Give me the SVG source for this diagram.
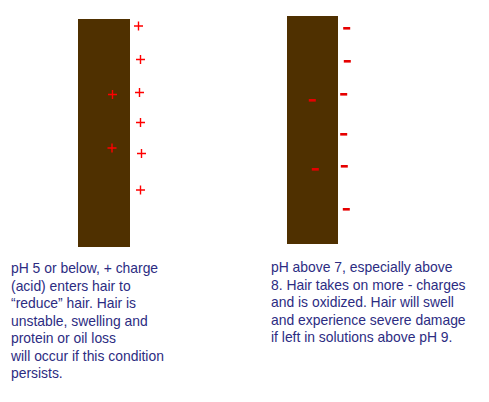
<svg xmlns="http://www.w3.org/2000/svg" width="489" height="402" viewBox="0 0 489 402">
<style>
.bar{fill:#4f3000}
.plus{stroke:#ff0000;stroke-width:1.4;fill:none}
.minus{fill:#e60000}
.txt{font-family:"Liberation Sans",Arial,sans-serif;font-size:13.9px;fill:#2c2c82}
</style>
<defs>
<path id="p" class="plus" d="M-4.5,0H4.5M0,-4.5V4.5"/>
<rect id="m" class="minus" x="-3.5" y="-1.3" width="7" height="2.6"/>
</defs>
<rect width="489" height="402" fill="#ffffff"/>
<g id="hair-acid">
<rect class="bar" x="78" y="19" width="52" height="228"/>
<use href="#p" x="138.5" y="26"/>
<use href="#p" x="140.5" y="59.5"/>
<use href="#p" x="139.5" y="92.5"/>
<use href="#p" x="140.5" y="122.5"/>
<use href="#p" x="141.5" y="153.5"/>
<use href="#p" x="140.5" y="190"/>
<use href="#p" x="112.5" y="94.5"/>
<use href="#p" x="112" y="148"/>
</g>
<g id="hair-alkaline">
<rect class="bar" x="287" y="16" width="51" height="228"/>
<use href="#m" x="346.7" y="28.3"/>
<use href="#m" x="347.3" y="61.3"/>
<use href="#m" x="343.7" y="94.3"/>
<use href="#m" x="343.7" y="134.3"/>
<use href="#m" x="344.3" y="166.3"/>
<use href="#m" x="346.3" y="209.3"/>
<use href="#m" x="312.3" y="100.3"/>
<use href="#m" x="315.3" y="169.3"/>
</g>
<g id="text-acid" class="txt">
<text x="11" y="273">pH 5 or below, + charge</text>
<text x="11" y="290.5">(acid) enters hair to</text>
<text x="11" y="308">“reduce” hair. Hair is</text>
<text x="11" y="325.5">unstable, swelling and</text>
<text x="11" y="343">protein or oil loss</text>
<text x="11" y="360.5">will occur if this condition</text>
<text x="11" y="378">persists.</text>
</g>
<g id="text-alkaline" class="txt">
<text x="271" y="272">pH above 7, especially above</text>
<text x="271" y="289.5">8. Hair takes on more - charges</text>
<text x="271" y="307">and is oxidized. Hair will swell</text>
<text x="271" y="324.5">and experience severe damage</text>
<text x="271" y="342">if left in solutions above pH 9.</text>
</g>
</svg>
